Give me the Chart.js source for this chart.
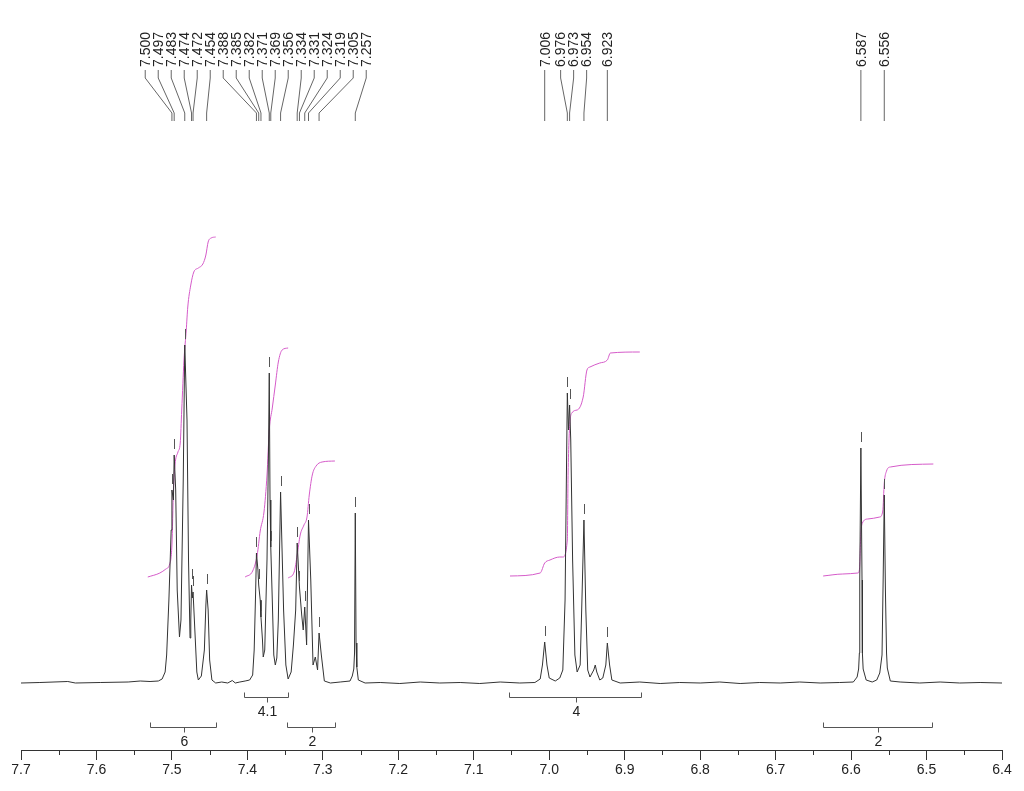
<!DOCTYPE html>
<html lang="en">
  <head>
    <meta charset="UTF-8" />
    <title>1H NMR 6.4 - 7.7 ppm</title>
    <script src="https://cdn.jsdelivr.net/npm/chart.js@4"></script>
    <style>
      html, body { margin: 0; padding: 0; background: #fff; }
      .graph-container { width: 1024px; height: 791px; position: relative; }
    </style>
  </head>
  <body>
    <div class="graph-container"><canvas id="spectrum"></canvas></div>

    <script>
      // axis range (ppm)
      const axisMin = 6.4;
      const axisMax = 7.7;

      // picked peaks: shift (ppm) and apex height (intensity units)
      const peakShift = [7.500, 7.497, 7.483, 7.474, 7.472, 7.454, 7.388, 7.385, 7.382, 7.371, 7.369, 7.356,
        7.334, 7.331, 7.324, 7.319, 7.305, 7.257, 7.006, 6.976, 6.973, 6.954, 6.923, 6.587, 6.556];
      const peakLabel = ["7.500", "7.497", "7.483", "7.474", "7.472", "7.454", "7.388", "7.385", "7.382",
        "7.371", "7.369", "7.356", "7.334", "7.331", "7.324", "7.319", "7.305", "7.257", "7.006", "6.976",
        "6.973", "6.954", "6.923", "6.587", "6.556"];
      const peakHeight = [193, 228, 338, 98, 91, 93, 130, 98, 66, 310, 136, 191, 140, 96, 76, 163, 50, 170,
        41, 290, 278, 163, 40, 235, 188];

      // spectrum trace [ppm, intensity]
      const spectrum = [
        [7.700, 0], [7.675, 0.5], [7.638, 1.5], [7.628, 0], [7.595, 0.5], [7.558, 1], [7.542, 2], [7.529, 1.5],
        [7.518, 2], [7.513, 4], [7.509, 11], [7.507, 28], [7.504, 83], [7.501, 153], [7.500, 193], [7.498, 183],
        [7.497, 228], [7.495, 193], [7.493, 93], [7.490, 46], [7.488, 63], [7.485, 203], [7.483, 338],
        [7.480, 263], [7.478, 123], [7.476, 45], [7.475, 63], [7.474, 98], [7.473, 85], [7.472, 91],
        [7.469, 43], [7.467, 11], [7.465, 3], [7.461, 7], [7.457, 33], [7.455, 78], [7.454, 93], [7.452, 73],
        [7.450, 23], [7.447, 3], [7.442, 0], [7.434, 1], [7.426, 0], [7.420, 2.5], [7.416, 0], [7.410, 1],
        [7.403, 2], [7.397, 3], [7.393, 8], [7.391, 33], [7.389, 93], [7.388, 130], [7.386, 113], [7.385, 98],
        [7.383, 83], [7.382, 66], [7.380, 43], [7.379, 26], [7.377, 33], [7.374, 123], [7.372, 233],
        [7.371, 310], [7.370, 183], [7.369, 136], [7.367, 83], [7.365, 28], [7.363, 18], [7.361, 25],
        [7.359, 63], [7.356, 191], [7.352, 73], [7.349, 18], [7.346, 4], [7.342, 11], [7.339, 38],
        [7.336, 73], [7.334, 140], [7.3325, 118], [7.331, 96], [7.328, 68], [7.326, 53], [7.324, 76],
        [7.3215, 38], [7.319, 163], [7.316, 103], [7.313, 18], [7.310, 26], [7.307, 13], [7.305, 50],
        [7.302, 28], [7.298, 2], [7.290, 0], [7.277, 1], [7.264, 2], [7.261, 7], [7.259, 14], [7.258, 30],
        [7.257, 170], [7.256, 40], [7.255, 16], [7.253, 3], [7.244, 0], [7.224, 0.5], [7.198, -0.5], [7.171, 1],
        [7.145, 0], [7.118, 0.5], [7.092, -0.5], [7.065, 1], [7.039, 0], [7.019, 0.5], [7.012, 4], [7.009, 18],
        [7.006, 41], [7.003, 18], [7.000, 5], [6.992, 2], [6.986, 5], [6.982, 13], [6.979, 83], [6.977, 223],
        [6.976, 290], [6.9745, 253], [6.973, 278], [6.9715, 243], [6.969, 123], [6.966, 28], [6.963, 11],
        [6.959, 18], [6.957, 73], [6.954, 163], [6.9515, 73], [6.949, 13], [6.946, 6], [6.941, 13], [6.939, 18],
        [6.937, 11], [6.933, 3], [6.929, 5], [6.925, 18], [6.923, 40], [6.920, 18], [6.917, 3], [6.906, 0],
        [6.880, 1], [6.853, -0.5], [6.827, 0.5], [6.800, 0], [6.774, 1], [6.747, -0.5], [6.721, 0.5],
        [6.694, 0], [6.668, 1], [6.641, 0], [6.615, 0.5], [6.597, 1], [6.592, 6], [6.590, 14], [6.589, 30],
        [6.5885, 103], [6.587, 235], [6.5855, 103], [6.585, 30], [6.584, 14], [6.580, 3], [6.572, 1],
        [6.566, 3], [6.562, 10], [6.559, 28], [6.5575, 103], [6.556, 188], [6.5545, 93], [6.553, 30],
        [6.552, 15], [6.548, 2], [6.535, 1], [6.509, 0], [6.482, 1], [6.456, 0], [6.429, 0.5], [6.400, 0],
      ];

      // integral regions
      const integralFrom = [7.529, 7.404, 7.347, 7.053, 6.637];
      const integralTo = [7.442, 7.346, 7.284, 6.878, 6.493];
      const integralValue = ["6", "4.1", "2", "4", "2"];

      // integral curves [ppm, level]
      const integral1 = [
        [7.532, 106], [7.516, 110], [7.508, 114], [7.503, 119], [7.500, 138], [7.498, 193], [7.496, 218],
        [7.492, 231], [7.489, 240], [7.487, 273], [7.484, 323], [7.481, 353], [7.479, 376], [7.475, 398],
        [7.471, 411], [7.465, 415], [7.459, 419], [7.455, 428], [7.452, 441], [7.448, 445], [7.442, 446],
      ];
      const integral2 = [
        [7.403, 106], [7.393, 112], [7.387, 128], [7.383, 152], [7.378, 171], [7.374, 208], [7.371, 253],
        [7.367, 275], [7.363, 298], [7.359, 321], [7.354, 333], [7.346, 335],
      ];
      const integral3 = [
        [7.346, 105], [7.338, 111], [7.334, 128], [7.330, 148], [7.325, 158], [7.321, 166], [7.318, 188],
        [7.314, 208], [7.309, 217], [7.301, 221], [7.284, 222],
      ];
      const integral4 = [
        [7.052, 107], [7.012, 110], [7.006, 120], [6.999, 123], [6.986, 126], [6.982, 126], [6.976, 143],
        [6.975, 210], [6.970, 270], [6.963, 273], [6.955, 286], [6.950, 313], [6.946, 316], [6.933, 320],
        [6.923, 323], [6.919, 330], [6.880, 331],
      ];
      const integral5 = [
        [6.637, 107], [6.611, 109], [6.591, 110], [6.589, 113], [6.587, 150], [6.585, 160], [6.578, 164],
        [6.562, 166], [6.558, 172], [6.556, 200], [6.553, 212], [6.548, 216], [6.491, 219],
      ];

      const FONT = "'Liberation Sans', Arial, Helvetica, sans-serif";
      const INTEGRAL_COLOR = "#d55bc9";
      const MARK_COLOR = "#555";

      function toPoints(pairs) {
        return pairs.map(([x, y]) => ({ x: x, y: y }));
      }

      // spread peak labels so they never overlap, each group centred on its peaks
      function spreadLabels(xs, gap) {
        let groups = xs.map((x, i) => ({ items: [i], center: x }));
        let merged = true;
        while (merged) {
          merged = false;
          for (let i = 0; i < groups.length - 1; i++) {
            const a = groups[i];
            const b = groups[i + 1];
            const aRight = a.center + ((a.items.length - 1) * gap) / 2;
            const bLeft = b.center - ((b.items.length - 1) * gap) / 2;
            if (bLeft - aRight < gap) {
              const items = a.items.concat(b.items);
              const center = items.reduce((s, k) => s + xs[k], 0) / items.length;
              groups.splice(i, 2, { items: items, center: center });
              merged = true;
              break;
            }
          }
        }
        const pos = [];
        groups.forEach((g) => {
          g.items.forEach((k, j) => {
            pos[k] = g.center + (j - (g.items.length - 1) / 2) * gap;
          });
        });
        return pos;
      }

      const annotations = {
        id: "annotations",
        afterDatasetsDraw(chart) {
          const ctx = chart.ctx;
          const xs = chart.scales.x;
          const ys = chart.scales.y;
          const area = chart.chartArea;
          const crisp = (v) => Math.round(v) + 0.5;

          ctx.save();
          ctx.lineWidth = 1;

          // minor ticks between labelled ticks
          ctx.strokeStyle = "#333";
          const ticks = xs.ticks;
          for (let i = 0; i < ticks.length - 1; i++) {
            const px = crisp(xs.getPixelForValue((ticks[i].value + ticks[i + 1].value) / 2));
            ctx.beginPath();
            ctx.moveTo(px, area.bottom);
            ctx.lineTo(px, area.bottom + 5);
            ctx.stroke();
          }

          // peak picking marks above each apex
          ctx.strokeStyle = MARK_COLOR;
          peakShift.forEach((ppm, i) => {
            const px = crisp(xs.getPixelForValue(ppm));
            const py = ys.getPixelForValue(peakHeight[i]);
            ctx.beginPath();
            ctx.moveTo(px, py - 6);
            ctx.lineTo(px, py - 16);
            ctx.stroke();
          });

          // peak labels with leader lines
          const peakX = peakShift.map((ppm) => xs.getPixelForValue(ppm));
          const labelX = spreadLabels(peakX, 13);
          ctx.strokeStyle = "#666";
          peakX.forEach((px, i) => {
            const lx = labelX[i];
            ctx.beginPath();
            ctx.moveTo(lx, 70);
            ctx.lineTo(lx, 78);
            ctx.lineTo(px, 113);
            ctx.lineTo(px, 121);
            ctx.stroke();

            ctx.save();
            ctx.translate(lx, 67);
            ctx.rotate(-Math.PI / 2);
            ctx.fillStyle = "#222";
            ctx.font = "14px " + FONT;
            ctx.textAlign = "left";
            ctx.textBaseline = "middle";
            ctx.fillText(peakLabel[i], 0, 1);
            ctx.restore();
          });

          // integral brackets
          const base = ys.getPixelForValue(0);
          ctx.strokeStyle = MARK_COLOR;
          ctx.fillStyle = "#222";
          ctx.font = "14px " + FONT;
          ctx.textAlign = "center";
          ctx.textBaseline = "middle";
          integralFrom.forEach((from, i) => {
            const x1 = crisp(xs.getPixelForValue(from));
            const x2 = crisp(xs.getPixelForValue(integralTo[i]));
            const y = crisp(base + (i % 2 === 0 ? 44 : 14));
            const cx = crisp((x1 + x2) / 2);
            ctx.beginPath();
            ctx.moveTo(x1, y - 5);
            ctx.lineTo(x1, y);
            ctx.lineTo(x2, y);
            ctx.lineTo(x2, y - 5);
            ctx.moveTo(cx, y);
            ctx.lineTo(cx, y + 5);
            ctx.stroke();
            ctx.fillText(integralValue[i], cx, y + 15);
          });

          ctx.restore();
        },
      };

      function integralDataset(pairs) {
        return {
          data: toPoints(pairs),
          borderColor: INTEGRAL_COLOR,
          borderWidth: 1,
          pointRadius: 0,
          cubicInterpolationMode: "monotone",
          fill: false,
        };
      }

      function createChart() {
        const ctx = document.getElementById("spectrum").getContext("2d");

        new Chart(ctx, {
          type: "line",
          data: {
            datasets: [
              {
                data: toPoints(spectrum),
                borderColor: "#333",
                borderWidth: 1,
                pointRadius: 0,
                tension: 0,
                fill: false,
              },
              integralDataset(integral1),
              integralDataset(integral2),
              integralDataset(integral3),
              integralDataset(integral4),
              integralDataset(integral5),
            ],
          },
          options: {
            responsive: true,
            maintainAspectRatio: false,
            animation: false,
            events: [],
            layout: {
              padding: { left: 21, right: 22, top: 120, bottom: 0 },
            },
            plugins: {
              legend: { display: false },
              tooltip: { enabled: false },
              title: { display: false },
            },
            scales: {
              x: {
                type: "linear",
                reverse: true,
                min: axisMin,
                max: axisMax,
                afterFit: (scale) => {
                  scale.height = 41;
                },
                ticks: {
                  stepSize: 0.1,
                  autoSkip: false,
                  maxRotation: 0,
                  padding: 2,
                  color: "#222",
                  font: { size: 14, family: FONT },
                  callback: (value) => Number(value).toFixed(1),
                },
                grid: {
                  drawOnChartArea: false,
                  drawTicks: true,
                  tickLength: 10,
                  tickColor: "#333",
                },
                border: { display: true, color: "#333", width: 1 },
              },
              y: {
                display: false,
                min: -67,
                max: 563,
              },
            },
          },
          plugins: [annotations],
        });
      }

      document.addEventListener("DOMContentLoaded", createChart);
    </script>
  </body>
</html>
